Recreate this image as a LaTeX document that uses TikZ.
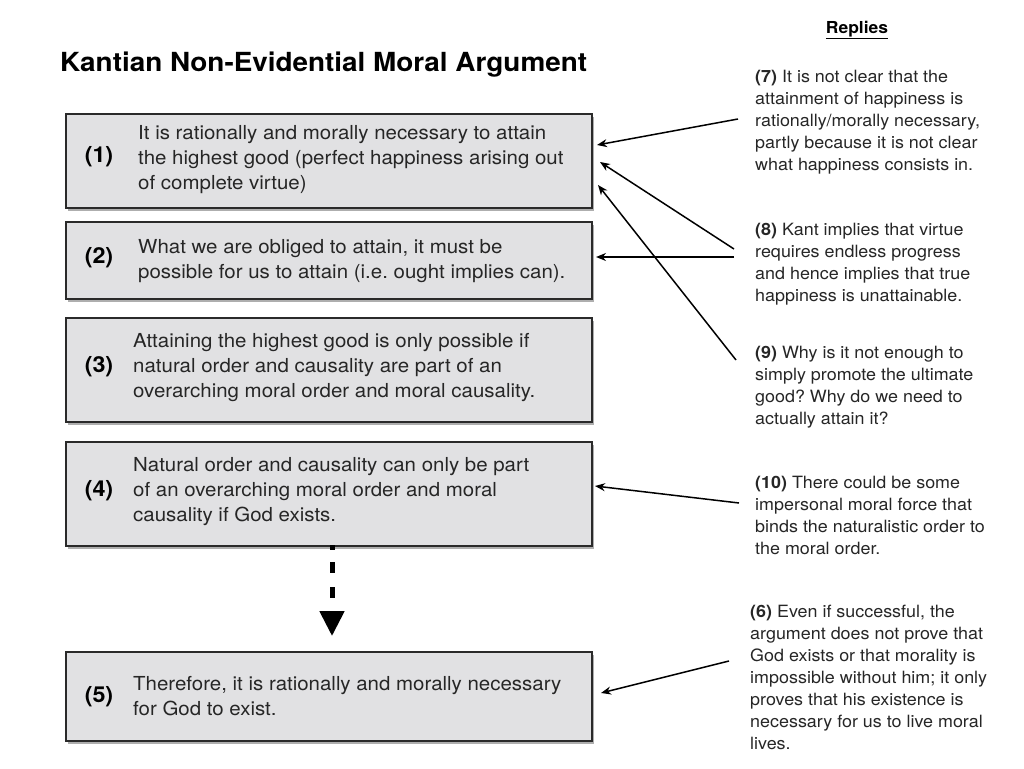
\documentclass[tikz,border=0pt]{standalone}
\usepackage{fontspec}
\setmainfont[FakeStretch=1.06]{TeX Gyre Heros}
\usetikzlibrary{arrows.meta,shadows}
\definecolor{boxfill}{HTML}{E1E1E3}
\definecolor{boxline}{HTML}{2A2A2A}
\frenchspacing
\begin{document}
\begin{tikzpicture}[x=1pt,y=-1pt,
  premise/.style={draw=boxline, line width=1.8pt, fill=boxfill, minimum width=526pt, anchor=north west,
    inner sep=0pt, drop shadow={shadow xshift=2pt, shadow yshift=-3pt, opacity=0.45, fill=black!70}},
  num/.style={font=\fontsize{22}{24}\selectfont\bfseries, inner sep=0pt},
  ptxt/.style={font=\fontsize{19.3}{25}\selectfont\frenchspacing, align=left, anchor=west, inner sep=0pt, text=black!85},
  rtxt/.style={font=\fontsize{16.9}{22}\selectfont\frenchspacing, align=left, anchor=west, inner sep=0pt, text=black!85},
  reply/.style={line width=1.5pt, -{Stealth[length=10pt,width=8pt]}},
  bigdash/.style={line width=5pt, dash pattern=on 5pt off 12pt on 11pt off 14pt on 11pt off 30pt,
    -{Triangle[length=25pt,width=24pt]}}
]
\useasboundingbox (0,0) rectangle (1024,768);
\fill[white] (0,0) rectangle (1024,768);

% title and header
\node[font=\fontsize{26.3}{30}\selectfont\bfseries, anchor=west, inner sep=0pt] (title) at (60,65) {Kantian Non-Evidential Moral Argument};
\node[font=\fontsize{16.5}{18}\selectfont\bfseries, inner sep=0pt] (replies) at (857,30) {\underline{Replies}};

% premise boxes
\node[premise, minimum height=94pt] (b1) at (65,113) {};
\node[premise, minimum height=77pt] (b2) at (65,221) {};
\node[premise, minimum height=104pt] (b3) at (65,317) {};
\node[premise, minimum height=104pt] (b4) at (65,441) {};
\node[premise, minimum height=89pt] (b5) at (65,651) {};

\node[num] (n1) at (99,157) {(1)};
\node[ptxt] (t1) at (138,160) {It is rationally and morally necessary to attain\\the highest good (perfect happiness arising out\\of complete virtue)};
\node[num] (n2) at (99,258) {(2)};
\node[ptxt] (t2) at (138,261) {What we are obliged to attain, it must be\\possible for us to attain (i.e. ought implies can).};
\node[num] (n3) at (99,367) {(3)};
\node[ptxt] (t3) at (133,368) {Attaining the highest good is only possible if\\natural order and causality are part of an\\overarching moral order and moral causality.};
\node[num] (n4) at (99,491) {(4)};
\node[ptxt] (t4) at (133,492) {Natural order and causality can only be part\\of an overarching moral order and moral\\causality if God exists.};
\node[num] (n5) at (99,697) {(5)};
\node[ptxt] (t5) at (133,696) {Therefore, it is rationally and morally necessary\\for God to exist.};

% replies
\node[rtxt] (r7) at (755,122) {\textbf{(7)} It is not clear that the\\attainment of happiness is\\rationally/morally necessary,\\partly because it is not clear\\what happiness consists in.};
\node[rtxt] (r8) at (755,264) {\textbf{(8)} Kant implies that virtue\\requires endless progress\\and hence implies that true\\happiness is unattainable.};
\node[rtxt] (r9) at (755,387) {\textbf{(9)} Why is it not enough to\\simply promote the ultimate\\good? Why do we need to\\actually attain it?};
\node[rtxt] (r10) at (755,515) {\textbf{(10)} There could be some\\impersonal moral force that\\binds the naturalistic order to\\the moral order.};
\node[rtxt] (r6) at (750,677) {\textbf{(6)} Even if successful, the\\argument does not prove that\\God exists or that morality is\\impossible without him; it only\\proves that his existence is\\necessary for us to live moral\\lives.};

% connector end points
\coordinate (s7) at (738,119);
\coordinate (e7) at (597,145);
\coordinate (s8a) at (734,249);
\coordinate (e8a) at (600,162);
\coordinate (s8b) at (734,257);
\coordinate (e8b) at (596,257);
\coordinate (s9) at (736,360);
\coordinate (e9) at (598,185);
\coordinate (s10) at (739,503);
\coordinate (e10) at (595,486);
\coordinate (s6) at (729,661);
\coordinate (e6) at (601,693);
\coordinate (d4) at (332,545);
\coordinate (d5) at (332,636);

\draw[reply] (s7) -- (e7);
\draw[reply] (s8a) -- (e8a);
\draw[reply] (s8b) -- (e8b);
\draw[reply] (s9) -- (e9);
\draw[reply] (s10) -- (e10);
\draw[reply] (s6) -- (e6);

\draw[bigdash] (d4) -- (d5);
\end{tikzpicture}
\end{document}
